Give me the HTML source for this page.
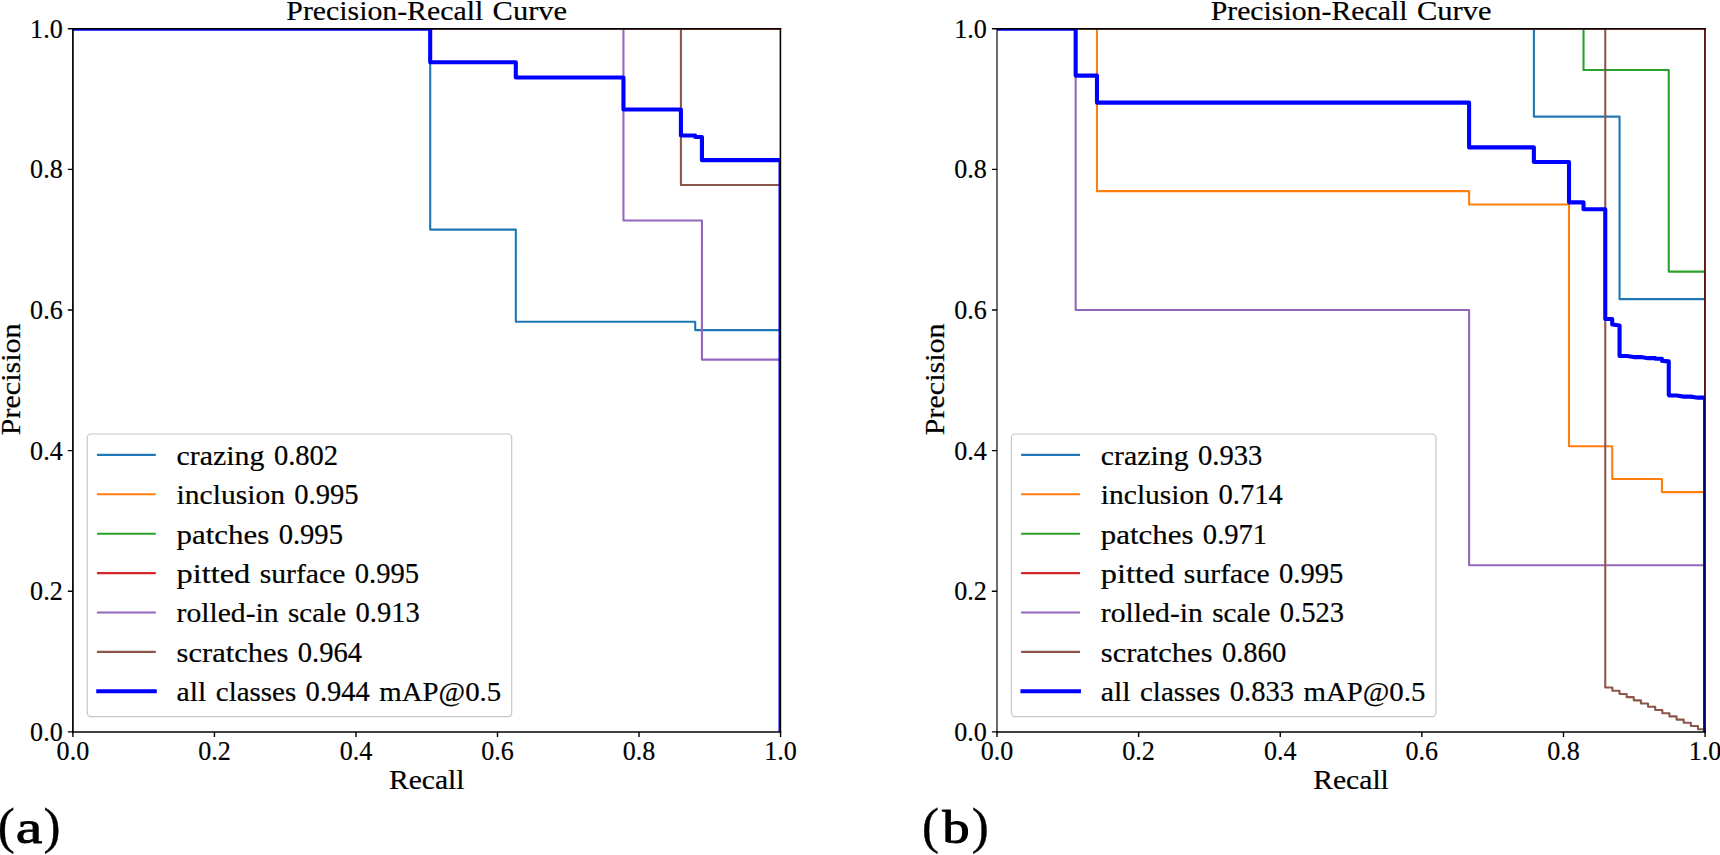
<!DOCTYPE html>
<html lang="en"><head><meta charset="utf-8"><title>Precision-Recall Curves</title>
<style>html,body{margin:0;padding:0;background:#fff}body{width:1720px;height:855px;overflow:hidden}svg{display:block}text{font-family:'Liberation Serif', 'DejaVu Serif', serif;fill:#000}.t text{stroke:#000;stroke-width:0.2}</style>
</head><body>
<svg width="1720" height="855" viewBox="0 0 1720 855">
<rect width="1720" height="855" fill="#fff"/>
<g id="panel0" class="t">
<clipPath id="clip0"><rect x="72.9" y="28.7" width="707.65" height="703.2"/></clipPath>
<g clip-path="url(#clip0)" fill="none" stroke-linejoin="round" stroke-linecap="butt" stroke-width="2.1">
<path d="M72.9 28.7L430.19 28.7L430.19 229.6L515.82 229.6L515.82 321.72L695.21 321.72L695.21 330.09L780.55 330.09L780.55 731.9" stroke="#1f77b4"/>
<path d="M72.9 28.7L780.55 28.7" stroke="#ff7f0e"/>
<path d="M72.9 28.7L780.55 28.7" stroke="#2ca02c"/>
<path d="M72.9 28.7L780.55 28.7L780.55 731.9" stroke="#d62728"/>
<path d="M72.9 28.7L623.45 28.7L623.45 220.46L701.93 220.46L701.93 359.63L780.55 359.63L780.55 731.9" stroke="#9467bd"/>
<path d="M72.9 28.7L680.91 28.7L680.91 184.95L780.55 184.95L780.55 731.9" stroke="#8c564b"/>
<path d="M72.9 28.7L430.19 28.7L430.19 62.18L515.82 62.18L515.82 77.54L623.45 77.54L623.45 109.5L680.91 109.5L680.91 135.54L695.21 135.54L695.21 136.93L701.93 136.93L701.93 160.13L780.55 160.13L780.55 731.9" stroke="#0000ff" stroke-width="4.1" stroke-linecap="square"/>
</g>
<path d="M72.9 731.9v5.1M72.9 731.9h-5.1M214.43 731.9v5.1M72.9 591.26h-5.1M355.96 731.9v5.1M72.9 450.62h-5.1M497.49 731.9v5.1M72.9 309.98h-5.1M639.02 731.9v5.1M72.9 169.34h-5.1M780.55 731.9v5.1M72.9 28.7h-5.1" stroke="#000" stroke-width="1.4" fill="none"/>
<path d="M72.05 28.7H781.2" stroke="#000" stroke-width="1.5" fill="none"/>
<path d="M780.55 27.95V732.7" stroke="#000" stroke-width="1.3" fill="none"/>
<path d="M72.05 732H781.2" stroke="#000" stroke-width="1.4" fill="none"/>
<path d="M72.9 27.95V732.7" stroke="#000" stroke-width="1.7" fill="none"/>
<text x="56.61" y="759.6" font-size="27.3" textLength="32.58" lengthAdjust="spacingAndGlyphs">0.0</text>
<text x="30.12" y="740.9" font-size="27.3" textLength="32.58" lengthAdjust="spacingAndGlyphs">0.0</text>
<text x="198.14" y="759.6" font-size="27.3" textLength="32.58" lengthAdjust="spacingAndGlyphs">0.2</text>
<text x="30.12" y="600.26" font-size="27.3" textLength="32.58" lengthAdjust="spacingAndGlyphs">0.2</text>
<text x="339.67" y="759.6" font-size="27.3" textLength="32.58" lengthAdjust="spacingAndGlyphs">0.4</text>
<text x="30.12" y="459.62" font-size="27.3" textLength="32.58" lengthAdjust="spacingAndGlyphs">0.4</text>
<text x="481.2" y="759.6" font-size="27.3" textLength="32.58" lengthAdjust="spacingAndGlyphs">0.6</text>
<text x="30.12" y="318.98" font-size="27.3" textLength="32.58" lengthAdjust="spacingAndGlyphs">0.6</text>
<text x="622.73" y="759.6" font-size="27.3" textLength="32.58" lengthAdjust="spacingAndGlyphs">0.8</text>
<text x="30.12" y="178.34" font-size="27.3" textLength="32.58" lengthAdjust="spacingAndGlyphs">0.8</text>
<text x="764.26" y="759.6" font-size="27.3" textLength="32.58" lengthAdjust="spacingAndGlyphs">1.0</text>
<text x="30.12" y="37.7" font-size="27.3" textLength="32.58" lengthAdjust="spacingAndGlyphs">1.0</text>
<text y="20.4"><tspan x="286.35" font-size="28" textLength="196.85" lengthAdjust="spacingAndGlyphs">Precision-Recall</tspan> <tspan x="492.6" font-size="28" textLength="74.5" lengthAdjust="spacingAndGlyphs">Curve</tspan></text>
<text x="388.93" y="789.4" font-size="28" textLength="75.59" lengthAdjust="spacingAndGlyphs">Recall</text>
<text transform="translate(19.9 435.23) rotate(-90)" font-size="28" textLength="111.86" lengthAdjust="spacingAndGlyphs">Precision</text>
<rect x="87.25" y="434" width="424.45" height="282.6" rx="3.6" fill="#fff" fill-opacity="0.8" stroke="#c6c6c6" stroke-width="1.2"/>
<path d="M96.9 454.9H155.8" stroke="#1f77b4" stroke-width="2.1" fill="none"/>
<text y="464.8"><tspan x="176.6" font-size="28" textLength="87.87" lengthAdjust="spacingAndGlyphs">crazing</tspan> <tspan x="273.88" font-size="29" textLength="64.28" lengthAdjust="spacingAndGlyphs">0.802</tspan></text>
<path d="M96.9 494.3H155.8" stroke="#ff7f0e" stroke-width="2.1" fill="none"/>
<text y="504.2"><tspan x="176.6" font-size="28" textLength="108.34" lengthAdjust="spacingAndGlyphs">inclusion</tspan> <tspan x="294.34" font-size="29" textLength="64.28" lengthAdjust="spacingAndGlyphs">0.995</tspan></text>
<path d="M96.9 533.7H155.8" stroke="#2ca02c" stroke-width="2.1" fill="none"/>
<text y="543.6"><tspan x="176.6" font-size="28" textLength="92.65" lengthAdjust="spacingAndGlyphs">patches</tspan> <tspan x="278.66" font-size="29" textLength="64.28" lengthAdjust="spacingAndGlyphs">0.995</tspan></text>
<path d="M96.9 573.1H155.8" stroke="#d62728" stroke-width="2.1" fill="none"/>
<text y="583"><tspan x="176.6" font-size="28" textLength="73.69" lengthAdjust="spacingAndGlyphs">pitted</tspan> <tspan x="259.69" font-size="28" textLength="85.68" lengthAdjust="spacingAndGlyphs">surface</tspan> <tspan x="354.78" font-size="29" textLength="64.28" lengthAdjust="spacingAndGlyphs">0.995</tspan></text>
<path d="M96.9 612.5H155.8" stroke="#9467bd" stroke-width="2.1" fill="none"/>
<text y="622.4"><tspan x="176.6" font-size="28" textLength="101.99" lengthAdjust="spacingAndGlyphs">rolled-in</tspan> <tspan x="287.99" font-size="28" textLength="58.16" lengthAdjust="spacingAndGlyphs">scale</tspan> <tspan x="355.56" font-size="29" textLength="64.28" lengthAdjust="spacingAndGlyphs">0.913</tspan></text>
<path d="M96.9 651.9H155.8" stroke="#8c564b" stroke-width="2.1" fill="none"/>
<text y="661.8"><tspan x="176.6" font-size="28" textLength="111.7" lengthAdjust="spacingAndGlyphs">scratches</tspan> <tspan x="297.71" font-size="29" textLength="64.28" lengthAdjust="spacingAndGlyphs">0.964</tspan></text>
<path d="M98.3 691.3H154.7" stroke="#0000ff" stroke-width="4.1" stroke-linecap="square" fill="none"/>
<text y="701.2"><tspan x="176.6" font-size="28" textLength="29.79" lengthAdjust="spacingAndGlyphs">all</tspan> <tspan x="215.79" font-size="28" textLength="80.42" lengthAdjust="spacingAndGlyphs">classes</tspan> <tspan x="305.62" font-size="29" textLength="64.28" lengthAdjust="spacingAndGlyphs">0.944</tspan> <tspan x="379.31" font-size="28" textLength="121.9" lengthAdjust="spacingAndGlyphs">mAP@0.5</tspan></text>
</g>
<g id="panel1" class="t">
<clipPath id="clip1"><rect x="997" y="28.7" width="708.1" height="703.2"/></clipPath>
<g clip-path="url(#clip1)" fill="none" stroke-linejoin="round" stroke-linecap="butt" stroke-width="2.1">
<path d="M997 28.7L1533.88 28.7L1533.88 116.6L1619.56 116.6L1619.56 299.15L1705.1 299.15L1705.1 731.9" stroke="#1f77b4"/>
<path d="M997 28.7L1096.98 28.7L1096.98 191.14L1469.09 191.14L1469.09 204.5L1569 204.5L1569 446.23L1612.2 446.23L1612.2 479.03L1661.91 479.03L1661.91 492.11L1705.1 492.11L1705.1 731.9" stroke="#ff7f0e"/>
<path d="M997 28.7L1583.52 28.7L1583.52 70.05L1668.77 70.05L1668.77 271.59L1705.1 271.59L1705.1 731.9" stroke="#2ca02c"/>
<path d="M997 28.7L1705.1 28.7L1705.1 731.9" stroke="#d62728"/>
<path d="M997 28.7L1075.67 28.7L1075.67 309.98L1469.09 309.98L1469.09 565.24L1705.1 565.24L1705.1 731.9" stroke="#9467bd"/>
<path d="M997 28.7L1605.26 28.7L1605.26 687.53L1612.39 687.53L1612.39 690.74L1619.52 690.74L1619.52 693.94L1626.65 693.94L1626.65 697.15L1633.78 697.15L1633.78 700.36L1640.92 700.36L1640.92 703.57L1648.05 703.57L1648.05 706.77L1655.18 706.77L1655.18 709.98L1662.31 709.98L1662.31 713.19L1669.44 713.19L1669.44 716.4L1676.57 716.4L1676.57 719.6L1683.71 719.6L1683.71 722.81L1690.84 722.81L1690.84 726.02L1697.97 726.02L1697.97 729.23L1705.1 729.23L1705.1 731.9" stroke="#8c564b"/>
<path d="M997 28.7L1075.67 28.7L1075.67 75.58L1096.98 75.58L1096.98 102.65L1469.09 102.65L1469.09 147.42L1533.88 147.42L1533.88 162.07L1569 162.07L1569 202.36L1583.52 202.36L1583.52 209.25L1605.26 209.25L1605.26 319.06L1612.2 319.06L1612.2 324.52L1612.39 324.52L1619.52 325.59L1619.56 325.59L1619.56 356.02L1626.65 356.02L1633.78 357.09L1640.92 357.09L1648.05 358.16L1655.18 358.16L1655.18 358.69L1661.91 358.69L1661.91 360.87L1662.31 360.87L1668.77 361.41L1668.77 395L1669.44 395.53L1676.57 395.53L1683.71 396.6L1690.84 396.6L1697.97 397.67L1705.1 397.67L1705.1 731.9" stroke="#0000ff" stroke-width="4.1" stroke-linecap="square"/>
</g>
<path d="M997 731.9v5.1M997 731.9h-5.1M1138.62 731.9v5.1M997 591.26h-5.1M1280.24 731.9v5.1M997 450.62h-5.1M1421.86 731.9v5.1M997 309.98h-5.1M1563.48 731.9v5.1M997 169.34h-5.1M1705.1 731.9v5.1M997 28.7h-5.1" stroke="#000" stroke-width="1.4" fill="none"/>
<path d="M996.42 28.7H1705.75" stroke="#000" stroke-width="1.5" fill="none"/>
<path d="M1705.1 27.95V732.7" stroke="#000" stroke-width="1.3" fill="none"/>
<path d="M996.42 732H1705.75" stroke="#000" stroke-width="1.4" fill="none"/>
<path d="M997 27.95V732.7" stroke="#000" stroke-width="1.15" fill="none"/>
<text x="980.71" y="759.6" font-size="27.3" textLength="32.58" lengthAdjust="spacingAndGlyphs">0.0</text>
<text x="954.32" y="740.9" font-size="27.3" textLength="32.58" lengthAdjust="spacingAndGlyphs">0.0</text>
<text x="1122.33" y="759.6" font-size="27.3" textLength="32.58" lengthAdjust="spacingAndGlyphs">0.2</text>
<text x="954.32" y="600.26" font-size="27.3" textLength="32.58" lengthAdjust="spacingAndGlyphs">0.2</text>
<text x="1263.95" y="759.6" font-size="27.3" textLength="32.58" lengthAdjust="spacingAndGlyphs">0.4</text>
<text x="954.32" y="459.62" font-size="27.3" textLength="32.58" lengthAdjust="spacingAndGlyphs">0.4</text>
<text x="1405.57" y="759.6" font-size="27.3" textLength="32.58" lengthAdjust="spacingAndGlyphs">0.6</text>
<text x="954.32" y="318.98" font-size="27.3" textLength="32.58" lengthAdjust="spacingAndGlyphs">0.6</text>
<text x="1547.19" y="759.6" font-size="27.3" textLength="32.58" lengthAdjust="spacingAndGlyphs">0.8</text>
<text x="954.32" y="178.34" font-size="27.3" textLength="32.58" lengthAdjust="spacingAndGlyphs">0.8</text>
<text x="1688.81" y="759.6" font-size="27.3" textLength="32.58" lengthAdjust="spacingAndGlyphs">1.0</text>
<text x="954.32" y="37.7" font-size="27.3" textLength="32.58" lengthAdjust="spacingAndGlyphs">1.0</text>
<text y="20.4"><tspan x="1210.68" font-size="28" textLength="196.85" lengthAdjust="spacingAndGlyphs">Precision-Recall</tspan> <tspan x="1416.93" font-size="28" textLength="74.5" lengthAdjust="spacingAndGlyphs">Curve</tspan></text>
<text x="1313.25" y="789.4" font-size="28" textLength="75.59" lengthAdjust="spacingAndGlyphs">Recall</text>
<text transform="translate(944.1 435.23) rotate(-90)" font-size="28" textLength="111.86" lengthAdjust="spacingAndGlyphs">Precision</text>
<rect x="1011.45" y="434" width="424.45" height="282.6" rx="3.6" fill="#fff" fill-opacity="0.8" stroke="#c6c6c6" stroke-width="1.2"/>
<path d="M1021.1 454.9H1080" stroke="#1f77b4" stroke-width="2.1" fill="none"/>
<text y="464.8"><tspan x="1100.8" font-size="28" textLength="87.87" lengthAdjust="spacingAndGlyphs">crazing</tspan> <tspan x="1198.08" font-size="29" textLength="64.28" lengthAdjust="spacingAndGlyphs">0.933</tspan></text>
<path d="M1021.1 494.3H1080" stroke="#ff7f0e" stroke-width="2.1" fill="none"/>
<text y="504.2"><tspan x="1100.8" font-size="28" textLength="108.34" lengthAdjust="spacingAndGlyphs">inclusion</tspan> <tspan x="1218.54" font-size="29" textLength="64.28" lengthAdjust="spacingAndGlyphs">0.714</tspan></text>
<path d="M1021.1 533.7H1080" stroke="#2ca02c" stroke-width="2.1" fill="none"/>
<text y="543.6"><tspan x="1100.8" font-size="28" textLength="92.65" lengthAdjust="spacingAndGlyphs">patches</tspan> <tspan x="1202.86" font-size="29" textLength="64.28" lengthAdjust="spacingAndGlyphs">0.971</tspan></text>
<path d="M1021.1 573.1H1080" stroke="#d62728" stroke-width="2.1" fill="none"/>
<text y="583"><tspan x="1100.8" font-size="28" textLength="73.69" lengthAdjust="spacingAndGlyphs">pitted</tspan> <tspan x="1183.89" font-size="28" textLength="85.68" lengthAdjust="spacingAndGlyphs">surface</tspan> <tspan x="1278.98" font-size="29" textLength="64.28" lengthAdjust="spacingAndGlyphs">0.995</tspan></text>
<path d="M1021.1 612.5H1080" stroke="#9467bd" stroke-width="2.1" fill="none"/>
<text y="622.4"><tspan x="1100.8" font-size="28" textLength="101.99" lengthAdjust="spacingAndGlyphs">rolled-in</tspan> <tspan x="1212.19" font-size="28" textLength="58.16" lengthAdjust="spacingAndGlyphs">scale</tspan> <tspan x="1279.76" font-size="29" textLength="64.28" lengthAdjust="spacingAndGlyphs">0.523</tspan></text>
<path d="M1021.1 651.9H1080" stroke="#8c564b" stroke-width="2.1" fill="none"/>
<text y="661.8"><tspan x="1100.8" font-size="28" textLength="111.7" lengthAdjust="spacingAndGlyphs">scratches</tspan> <tspan x="1221.91" font-size="29" textLength="64.28" lengthAdjust="spacingAndGlyphs">0.860</tspan></text>
<path d="M1022.5 691.3H1078.9" stroke="#0000ff" stroke-width="4.1" stroke-linecap="square" fill="none"/>
<text y="701.2"><tspan x="1100.8" font-size="28" textLength="29.79" lengthAdjust="spacingAndGlyphs">all</tspan> <tspan x="1139.99" font-size="28" textLength="80.42" lengthAdjust="spacingAndGlyphs">classes</tspan> <tspan x="1229.82" font-size="29" textLength="64.28" lengthAdjust="spacingAndGlyphs">0.833</tspan> <tspan x="1303.51" font-size="28" textLength="121.9" lengthAdjust="spacingAndGlyphs">mAP@0.5</tspan></text>
</g>
<text y="843.2" stroke="#000" stroke-linejoin="round"><tspan x="-2.3" font-size="51" stroke-width="0.4">(</tspan><tspan x="15.8" font-size="45.6" stroke-width="0.9" textLength="26.6" lengthAdjust="spacingAndGlyphs">a</tspan><tspan x="43.6" font-size="51" stroke-width="0.4">)</tspan></text>
<text y="843.2" stroke="#000" stroke-linejoin="round"><tspan x="921.9" font-size="51" stroke-width="0.4">(</tspan><tspan x="942.2" font-size="45.6" stroke-width="0.9" textLength="27.4" lengthAdjust="spacingAndGlyphs">b</tspan><tspan x="971.7" font-size="51" stroke-width="0.4">)</tspan></text>
</svg></body></html>
